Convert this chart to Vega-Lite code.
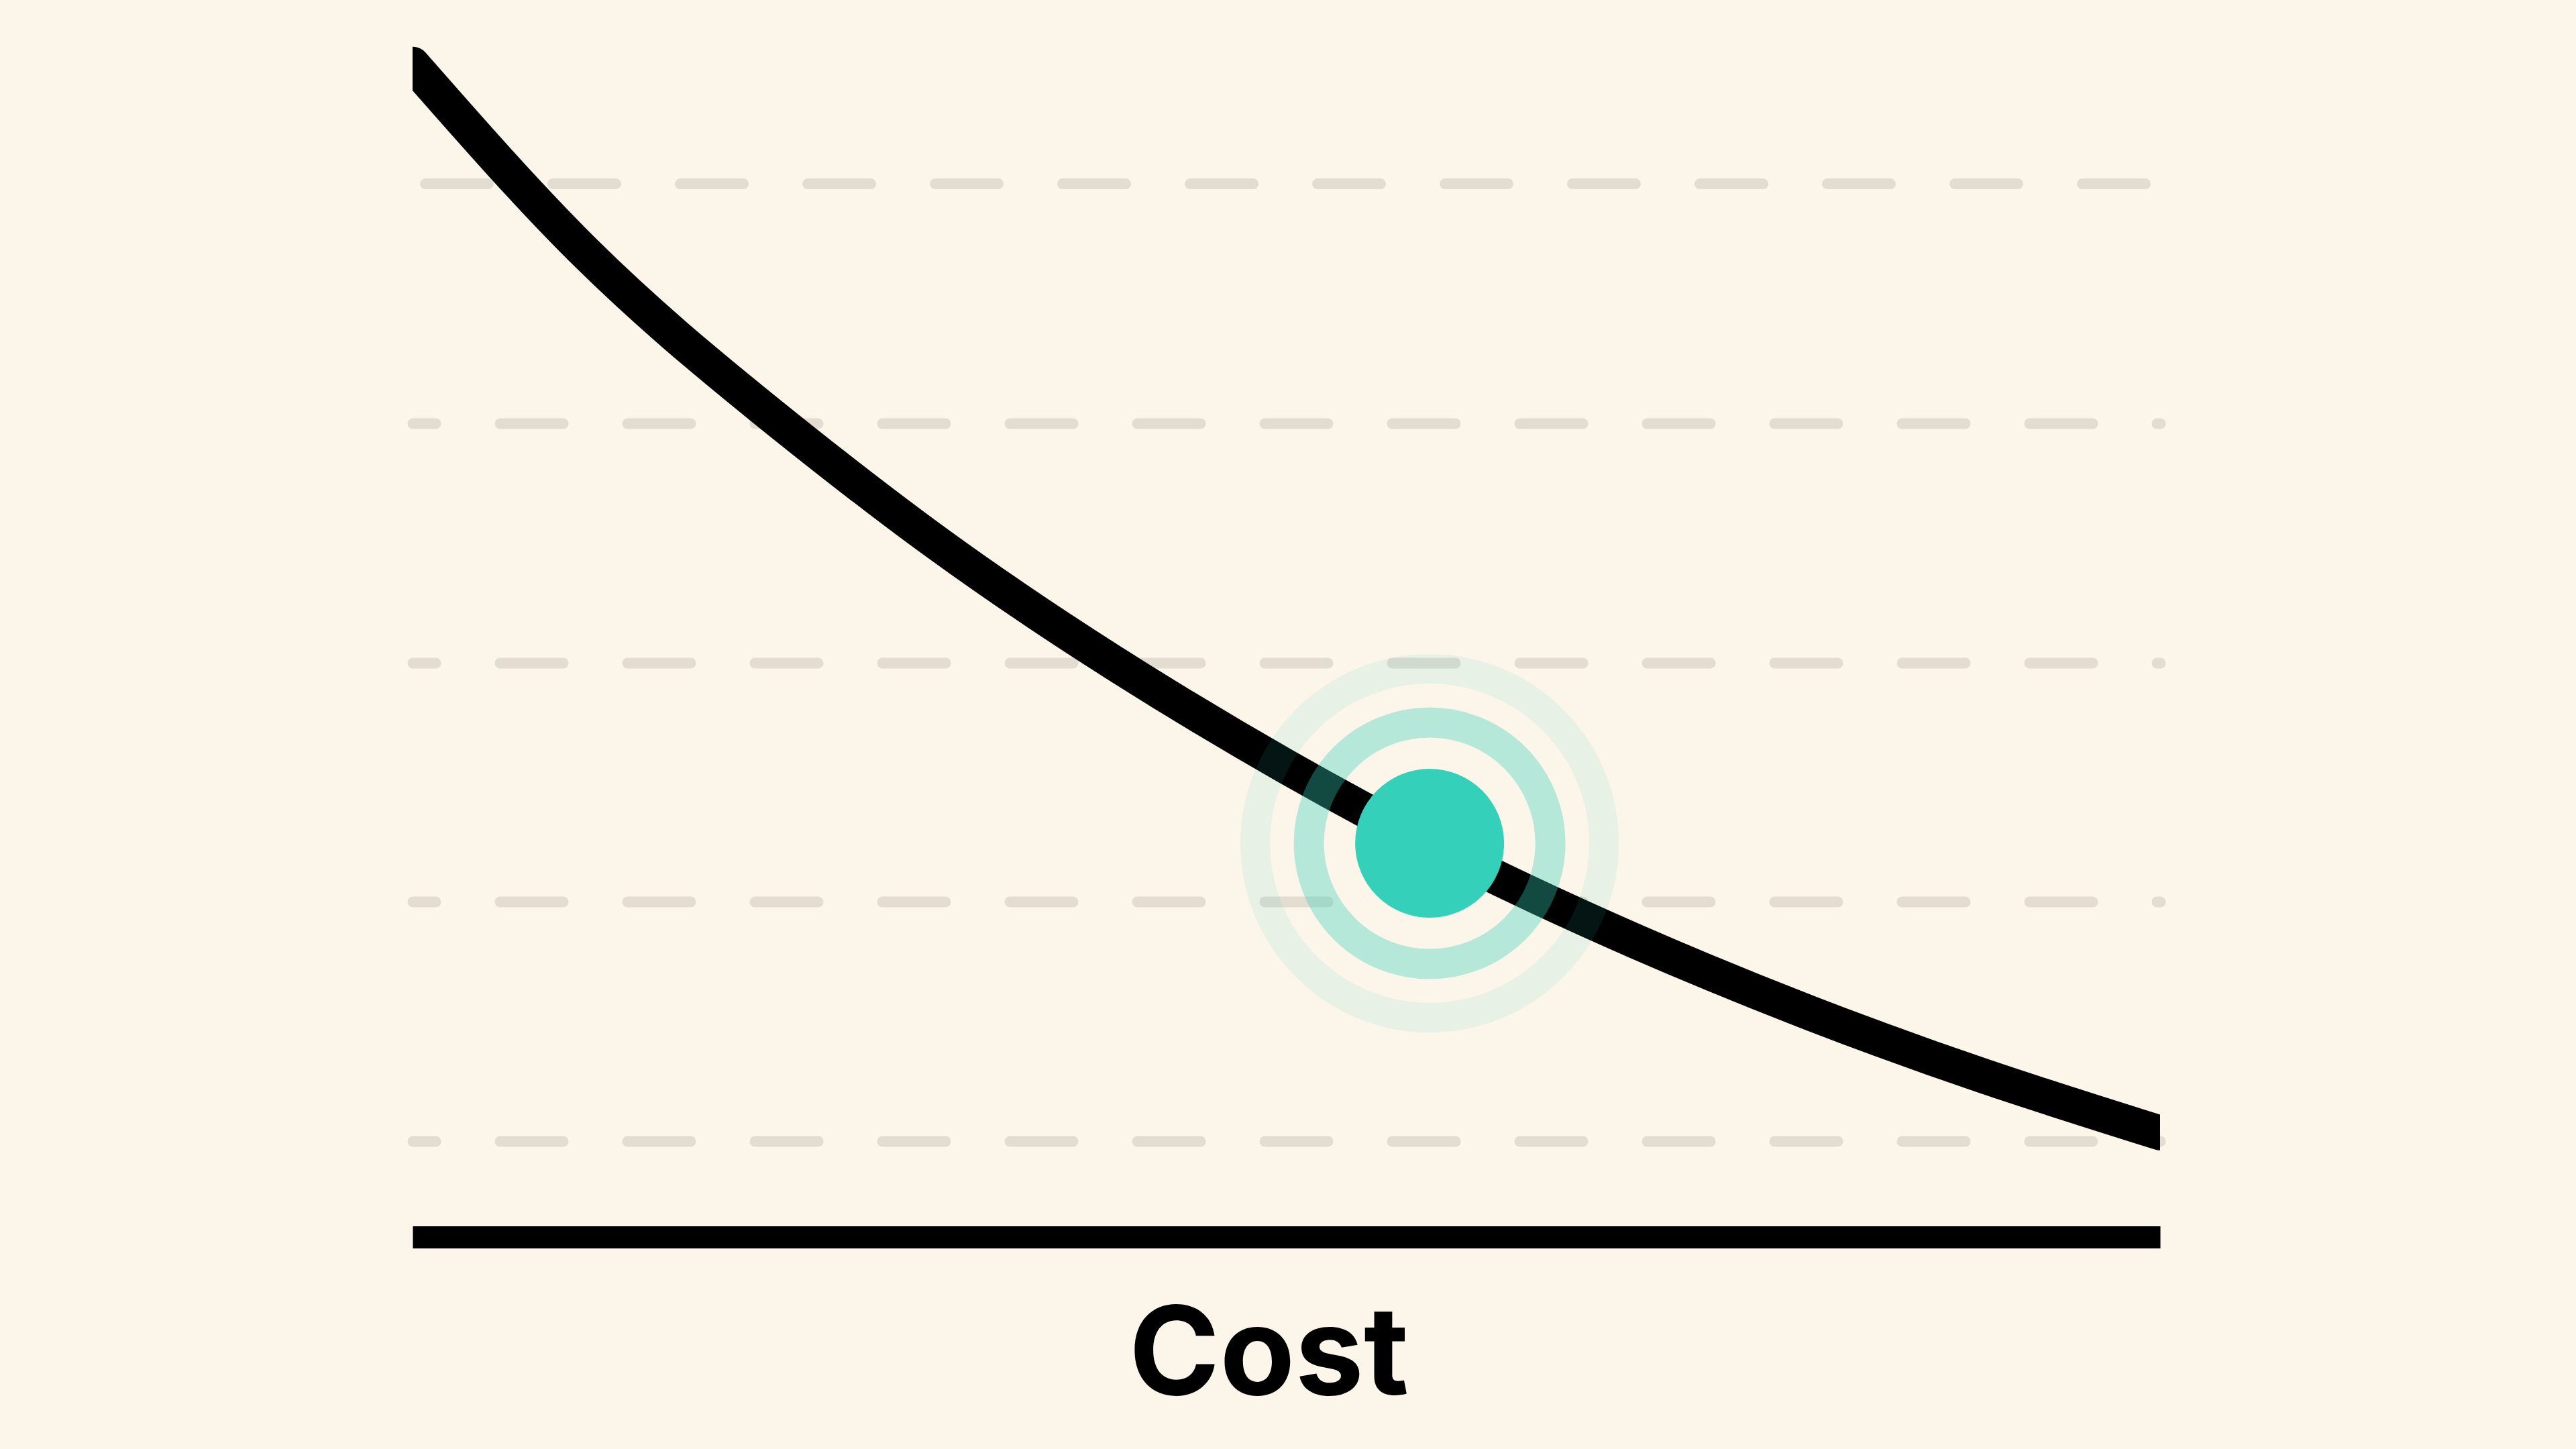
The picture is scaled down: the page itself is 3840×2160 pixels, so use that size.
{
  "$schema": "https://vega.github.io/schema/vega-lite/v6.json",
  "width": 2605,
  "height": 1784,
  "autosize": {"type": "none"},
  "padding": {"left": 615, "top": 60, "right": 620, "bottom": 316},
  "background": "#FCF5EA",
  "config": {"view": {"stroke": null}},
  "datasets": {
    "curve": [
      {"cost": 0, "value": 98.0},
      {"cost": 10, "value": 82.1},
      {"cost": 20, "value": 69.3},
      {"cost": 30, "value": 58.0},
      {"cost": 40, "value": 48.1},
      {"cost": 50, "value": 39.3},
      {"cost": 60, "value": 31.5},
      {"cost": 70, "value": 24.7},
      {"cost": 80, "value": 18.7},
      {"cost": 90, "value": 13.4},
      {"cost": 100, "value": 8.7}
    ],
    "marker": [
      {"cost": 58.2, "value": 32.9}
    ]
  },
  "layer": [
    {
      "data": {"values": [{}]},
      "mark": {"type": "rule", "color": "#E3DCD1", "strokeWidth": 16, "strokeDash": [94, 96], "strokeCap": "round"},
      "encoding": {
        "x": {
          "datum": 0.73, "type": "quantitative",
          "scale": {"domain": [0, 100], "nice": false, "zero": false},
          "axis": {
            "orient": "bottom", "grid": false, "ticks": false, "labels": false,
            "domain": true, "domainColor": "#000000", "domainWidth": 33, "domainCap": "butt",
            "title": "Cost", "titleFont": "Inter", "titleFontSize": 183, "titleFontWeight": 700,
            "titleColor": "#000000", "titleX": 1276, "titleY": 234,
            "titleAlign": "center", "titleBaseline": "alphabetic"
          }
        },
        "x2": {"datum": 99.2},
        "y": {
          "datum": 88, "type": "quantitative",
          "scale": {"domain": [0, 100], "nice": false, "zero": false},
          "axis": {
            "orient": "left", "domain": false, "ticks": false, "labels": false, "title": null,
            "grid": true, "values": [8, 28, 48, 68],
            "gridColor": "#E3DCD1", "gridOpacity": 1, "gridWidth": 16,
            "gridDash": [94, 96], "gridDashOffset": 60, "gridCap": "round"
          }
        }
      }
    },
    {
      "data": {"name": "curve"},
      "mark": {"type": "line", "clip": true, "color": "#000000", "strokeWidth": 52, "strokeCap": "round", "strokeJoin": "round", "interpolate": "natural"},
      "encoding": {
        "x": {"field": "cost", "type": "quantitative"},
        "y": {"field": "value", "type": "quantitative"}
      }
    },
    {
      "data": {"name": "marker"},
      "mark": {"type": "point", "filled": false, "shape": "circle", "size": 270400, "strokeWidth": 44, "color": "#35D0BA", "opacity": 1, "strokeOpacity": 0.1},
      "encoding": {
        "x": {"field": "cost", "type": "quantitative"},
        "y": {"field": "value", "type": "quantitative"}
      }
    },
    {
      "data": {"name": "marker"},
      "mark": {"type": "point", "filled": false, "shape": "circle", "size": 129600, "strokeWidth": 45, "color": "#35D0BA", "opacity": 1, "strokeOpacity": 0.35},
      "encoding": {
        "x": {"field": "cost", "type": "quantitative"},
        "y": {"field": "value", "type": "quantitative"}
      }
    },
    {
      "data": {"name": "marker"},
      "mark": {"type": "circle", "size": 49284, "color": "#35D0BA", "opacity": 1, "strokeWidth": 0},
      "encoding": {
        "x": {"field": "cost", "type": "quantitative"},
        "y": {"field": "value", "type": "quantitative"}
      }
    }
  ]
}
